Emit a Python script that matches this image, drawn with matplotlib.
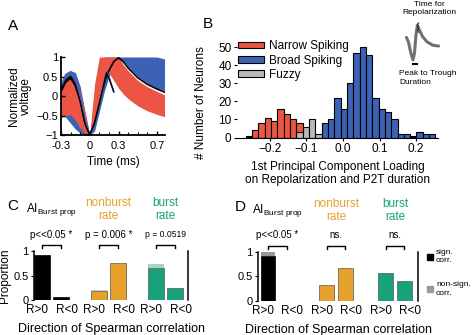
import numpy as np
import matplotlib
matplotlib.use("Agg")
import matplotlib.pyplot as plt
from matplotlib.patches import Patch

plt.rcParams['font.family'] = ['Liberation Sans', 'DejaVu Sans']
plt.rcParams['mathtext.fontset'] = 'custom'
plt.rcParams['mathtext.rm'] = 'Liberation Sans'
plt.rcParams['font.size'] = 7.5

RED = '#ec5443'
BLUE = '#3c62b4'
GRAY = '#b9b9b9'
ORANGE = '#e6a12c'
GREEN = '#17a27b'

t_ms = [-0.3, -0.25, -0.2, -0.15, -0.1, -0.05, 0.0, 0.05, 0.1, 0.15, 0.175,
        0.2, 0.25, 0.3, 0.35, 0.4, 0.5, 0.6, 0.7, 0.78]
blue_hi = [0.3, 0.55, 0.65, 0.6, 0.25, -0.4, -1.0, 0.0, 0.8, 1.0, 1.0,
           1.0, 1.0, 1.0, 1.0, 1.0, 1.0, 1.0, 1.0, 0.95]
blue_lo = [-0.45, -0.55, -0.7, -0.85, -0.95, -1.0, -1.0, -0.9, -0.4, 0.1, 0.3,
           0.5, 0.8, 0.97, 0.9, 0.75, 0.5, 0.33, 0.2, 0.14]
red_hi = [0.2, 0.43, 0.47, 0.38, 0.1, -0.42, -1.0, 0.3, 1.0, 1.0, 1.0,
          1.0, 1.0, 1.0, 0.8, 0.65, 0.4, 0.24, 0.12, 0.03]
red_lo = [-0.55, -0.5, -0.48, -0.62, -0.82, -0.96, -1.0, -0.8, -0.25, 0.3, 0.5,
          0.58, 0.4, 0.2, 0.05, -0.07, -0.25, -0.38, -0.47, -0.53]
blue_strand = [0.25, 0.55, 0.62, 0.45, 0.0, -0.6, -1.0, -0.8, -0.3, 0.35, 0.62,
               0.5, 0.1, np.nan, np.nan, np.nan, np.nan, np.nan, np.nan, np.nan]
black_narrow = [0.1, 0.35, 0.45, 0.25, -0.15, -0.7, -1.0, -0.7, -0.2, 0.35, 0.6,
                0.45, 0.12, np.nan, np.nan, np.nan, np.nan, np.nan, np.nan, np.nan]
black_broad = [0.15, 0.4, 0.5, 0.3, -0.1, -0.7, -1.0, -0.7, -0.2, 0.3, 0.5,
               0.65, 0.88, 0.98, 0.88, 0.72, 0.47, 0.3, 0.18, 0.1]

# ---- B: histogram of PC1 loading ----
bin_w = 0.0173
bin_left = np.round(-0.266 + bin_w * np.arange(30), 4)
narrow = [0, 4, 8, 11, 9, 16, 13, 10, 5, 0, 0, 0, 0, 0, 0, 0, 0, 0, 0, 0, 0, 0, 0, 0, 0, 0, 0, 0, 0, 0]
fuzzy = [0, 0, 0, 0, 0, 0, 0, 0, 3, 6, 10, 2, 0, 0, 0, 0, 0, 0, 0, 0, 0, 0, 0, 0, 0, 0, 0, 0, 0, 0]
broad = [0, 0, 0, 0, 0, 0, 0, 0, 0, 0, 0, 0, 8, 10, 22, 16, 30, 47, 50, 46, 22, 16, 14, 10, 2, 2, 0, 3, 2, 2]
unlabeled = [1, 0, 0, 0, 0, 0, 0, 0, 0, 0, 0, 0, 0, 0, 0, 0, 0, 0, 0, 0, 0, 0, 0, 0, 0, 0, 1, 0, 0, 0]

icon_t = [0, 1.5, 3, 4.5, 5.5, 6.5, 7.5, 9, 11, 14, 18, 22]
icon_v = [0.3, 0.0, -0.6, -1.0, -0.6, 0.4, 1.0, 0.7, 0.35, 0.05, -0.15, -0.2]

# ---- C / D: proportions by direction of Spearman correlation ----
measures = [r'AI$_{\mathrm{Burst\ prop}}$', 'nonburst\nrate', 'burst\nrate']
measure_colors = ['black', ORANGE, GREEN]
cap_colors = ['#9a9a9a', '#d9ceb8', '#a5d8c4']
dir_labels = ['R>0', 'R<0']
C_sig = [[0.92, 0.07], [0.18, 0.76], [0.66, 0.25]]
C_nonsig = [[0.0, 0.0], [0.03, 0.0], [0.07, 0.0]]
C_p = ['p<<0.05 *', 'p = 0.006 *', 'p = 0.0519']
D_sig = [[0.91, 0.0], [0.33, 0.66], [0.56, 0.41]]
D_nonsig = [[0.08, 0.0], [0.0, 0.0], [0.0, 0.0]]
D_p = ['p<<0.05 *', 'ns.', 'ns.']

W, H = 474, 335
fig = plt.figure(figsize=(W / 100, H / 100), dpi=100)


def px_axes(left, top, right, bottom):
    return fig.add_axes([left / W, 1 - bottom / H, (right - left) / W, (bottom - top) / H])


# panel A
axA = px_axes(61, 57, 165, 135)
axA.fill_between(t_ms, blue_lo, blue_hi, color=BLUE, lw=0)
axA.plot(t_ms, black_broad, color='k', lw=1.2)
axA.fill_between(t_ms, red_lo, red_hi, color=RED, lw=0)
axA.plot(t_ms, blue_strand, color=BLUE, lw=1.2)
axA.plot(t_ms, black_narrow, color='k', lw=0.9)
axA.set_xlim(-0.3, 0.785)
axA.set_ylim(-1, 1)
axA.set_xticks([-0.3, 0, 0.3, 0.7])
axA.set_xticklabels(['-0.3', '0', '0.3', '0.7'])
axA.set_xticks(np.arange(-0.2, 0.75, 0.1), minor=True)
axA.set_yticks([-1, -0.5, 0, 0.5, 1])
axA.set_yticklabels(['\u22121', '\u22120.5', '0', '0.5', '1'])
axA.tick_params(direction='in', length=3, width=1, labelsize=8, pad=2)
axA.tick_params(axis='x', pad=4)
axA.tick_params(which='minor', direction='in', length=2, width=0.8)
for s in ['top', 'right']:
    axA.spines[s].set_visible(False)
for s in ['left', 'bottom']:
    axA.spines[s].set_linewidth(1.3)
axA.set_xlabel('Time (ms)', fontsize=8.5, labelpad=4)
axA.set_ylabel('Normalized\nvoltage', fontsize=8.5, labelpad=3, linespacing=1.0)
fig.text(8 / W, 1 - 26 / H, 'A', fontsize=11, va='center')

# panel B
axB = px_axes(237, 43.7, 438, 137.5)
x = np.array(bin_left)
for vals, bottom, col in [(fuzzy, None, GRAY), (narrow, fuzzy, RED),
                          (broad, None, BLUE), (unlabeled, None, 'k')]:
    vals = np.array(vals)
    b = np.zeros(len(vals)) if bottom is None else np.array(bottom)
    m = vals > 0
    axB.bar(x[m], vals[m], bottom=b[m], width=bin_w, align='edge',
            color=col, edgecolor='k', lw=0.8)
axB.set_xlim(-0.29, 0.26)
axB.set_ylim(0, 52)
axB.set_xticks([-0.2, -0.1, 0, 0.1, 0.2])
axB.set_yticks([0, 10, 20, 30, 40, 50])
axB.tick_params(direction='out', length=2, labelsize=8.5, pad=2)
for s in ['top', 'right', 'left']:
    axB.spines[s].set_visible(False)
axB.set_xlabel('1st Principal Component Loading\non Repolarization and P2T duration',
               fontsize=8.5, labelpad=4)
axB.set_ylabel('# Number of Neurons', fontsize=8.5)
axB.yaxis.set_label_coords(-0.15, 0.37)
handles = [Patch(facecolor=RED, edgecolor='k', lw=0.8),
           Patch(facecolor=BLUE, edgecolor='k', lw=0.8),
           Patch(facecolor=GRAY, edgecolor='k', lw=0.8)]
axB.legend(handles, ['Narrow Spiking', 'Broad Spiking', 'Fuzzy'], loc='upper left',
           bbox_to_anchor=(0.0, 1.05), frameon=False, fontsize=8.5,
           handlelength=2.2, handleheight=0.5, handletextpad=0.4,
           labelspacing=0.2, borderpad=0.1, borderaxespad=0)
fig.text(203 / W, 1 - 24 / H, 'B', fontsize=11, va='center')

axI = px_axes(405, 20, 440, 66)
axI.plot(icon_t, icon_v, color='#707070', lw=2.2, solid_capstyle='round')
axI.plot([7.0, 7.0], [0.75, 1.2], color='k', lw=0.8, ls=':')
axI.plot([8.0, 8.0], [0.6, 1.2], color='k', lw=0.8, ls=':')
axI.plot([4.5, 7.5], [-1.25, -1.25], color='k', lw=1.5)
axI.set_xlim(-1, 23)
axI.set_ylim(-1.35, 1.3)
axI.axis('off')
fig.text(429 / W, 1 - 1 / H, 'Time for\nRepolarization', fontsize=6,
         ha='center', va='top', linespacing=1.2)
fig.text(399 / W, 1 - 70 / H, 'Peak to Trough\nDuration', fontsize=6,
         ha='left', va='top', linespacing=1.4)


def proportion_panel(ax, sig, nonsig, ptexts, gap, xlim, ylabel):
    ticks = []
    for i in range(3):
        g = i * gap
        pos = [g, g + 1]
        ticks += [g - 0.25, g + 1.3]
        ax.bar(pos, sig[i], width=0.8, color=measure_colors[i],
               edgecolor='#555555' if i else 'k', lw=0.5)
        ax.bar(pos, nonsig[i], bottom=sig[i], width=0.8, color=cap_colors[i], lw=0)
        ax.plot([g, g, g + 1, g + 1], [1.06, 1.12, 1.12, 1.06], color='k',
                lw=1, clip_on=False)
        ax.text(g + 0.5, 1.33, ptexts[i], ha='center', va='center',
                fontsize=7 if ptexts[i] != 'p = 0.0519' else 6.2, clip_on=False)
        ax.text(g + 0.5, 1.84, measures[i], color=measure_colors[i], ha='center',
                va='center', fontsize=8.5, linespacing=1.1, clip_on=False)
    ax.set_xticks(ticks)
    ax.set_xticklabels(dir_labels * 3, fontsize=8.5)
    ax.set_xlim(*xlim)
    ax.set_ylim(0, 1)
    ax.set_yticks([0, 0.5, 1])
    ax.set_yticklabels(['0', '0.5', '1'])
    ax.tick_params(axis='x', length=0, pad=3)
    ax.tick_params(axis='y', direction='out', length=2, labelsize=8, pad=2)
    for s in ['top', 'bottom']:
        ax.spines[s].set_visible(False)
    for s in ['left', 'right']:
        ax.spines[s].set_linewidth(1.1)
    ax.set_xlabel('Direction of Spearman correlation', fontsize=9)
    ax.xaxis.set_label_coords(0.5, -0.46)
    if ylabel:
        ax.set_ylabel('Proportion', fontsize=8.5)
        ax.yaxis.set_label_coords(-0.15, 0.5)


axC = px_axes(34.3, 251, 188.3, 300)
proportion_panel(axC, C_sig, C_nonsig, C_p, 3.0, (-0.4, 7.7), True)
fig.text(7 / W, 1 - 206 / H, 'C', fontsize=11, va='center')

axD = px_axes(258.3, 251.7, 418.3, 301)
proportion_panel(axD, D_sig, D_nonsig, D_p, 3.16, (-0.52, 8.08), False)
fig.text(235 / W, 1 - 207 / H, 'D', fontsize=11, va='center')

for yy, col, lab in [(0.9, 'k', 'sign.\ncorr.'), (0.24, '#9a9a9a', 'non-sign.\ncorr.')]:
    axD.plot([1.073], [yy], marker='s', ms=4, color=col, transform=axD.transAxes,
             clip_on=False)
    axD.text(1.11, yy, lab, fontsize=6, va='center', ha='left',
             transform=axD.transAxes, linespacing=1.3)

fig.savefig('out.png', dpi=100)
